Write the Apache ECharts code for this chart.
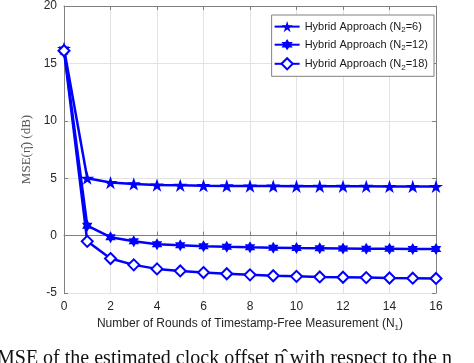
<!DOCTYPE html>
<html><head><meta charset="utf-8">
<script src="https://cdn.jsdelivr.net/npm/echarts@6/dist/echarts.min.js"></script>
<style>html,body{margin:0;padding:0;background:#fff}#c{width:474px;height:363px}</style>
</head><body><div id="c"></div>
<script>
const rounds = [0,1,2,3,4,5,6,7,8,9,10,11,12,13,14,15,16];
const mseN6  = [16.3, 5.0, 4.62, 4.5, 4.4, 4.38, 4.35, 4.33, 4.32, 4.31, 4.3, 4.3, 4.29, 4.29, 4.28, 4.28, 4.28];
const mseN12 = [16.2, 0.86, -0.14, -0.5, -0.75, -0.85, -0.93, -0.98, -1.02, -1.05, -1.08, -1.1, -1.12, -1.14, -1.15, -1.16, -1.17];
const mseN18 = [16.1, -0.5, -2.0, -2.55, -2.9, -3.08, -3.22, -3.32, -3.42, -3.5, -3.55, -3.6, -3.63, -3.66, -3.69, -3.71, -3.73];
const seriesNames = ['N2=6', 'N2=12', 'N2=18'];
const legendSuffix = ['=6)', '=12)', '=18)'];
const xTicks = [0,2,4,6,8,10,12,14,16];
const yTicks = [-5,0,5,10,15,20];

const star5 = 'path://M100,0 L122.45,69.1 L195.1,69.1 L136.3,111.8 L158.8,180.9 L100,138.2 L41.2,180.9 L63.7,111.8 L4.9,69.1 L77.55,69.1 Z';
const star6 = 'path://M100,0 L128.9,50 L186.6,50 L157.7,100 L186.6,150 L128.9,150 L100,200 L71.1,150 L13.4,150 L42.3,100 L13.4,50 L71.1,50 Z';

const blue = '#0000ff';
function mk(name, vals, symbol, size, fill) {
  return {
    name: name, type: 'line',
    data: rounds.map((r, i) => [r, vals[i]]),
    lineStyle: { color: blue, width: 2.5 },
    itemStyle: { color: fill, borderColor: blue, borderWidth: fill === blue ? 0 : 2 },
    symbol: symbol, symbolSize: size, showSymbol: true,
    symbolKeepAspect: true,
    animation: false, z: 3
  };
}

const chart = echarts.init(document.getElementById('c'), null, { renderer: 'canvas' });
const axisCol = '#808080';
const labelCol = '#262626';
chart.setOption({
  animation: false,
  grid: { left: 64, right: 38, top: 5, bottom: 70, show: false },
  xAxis: [{
    type: 'value', min: 0, max: 16, interval: 2,
    name: 'Number of Rounds of Timestamp-Free Measurement (N{s|1})',
    nameLocation: 'middle', nameGap: 22,
    nameTextStyle: { color: labelCol, fontSize: 12, fontFamily: 'Liberation Sans',
      rich: { s: { fontSize: 8, padding: [8,0,0,0], color: labelCol, fontFamily: 'Liberation Sans' } } },
    axisLine: { show: true, lineStyle: { color: axisCol, width: 1 } },
    axisTick: { show: true, inside: true, length: 4, lineStyle: { color: axisCol } },
    axisLabel: { color: labelCol, fontSize: 12, fontFamily: 'Liberation Sans', margin: 8 },
    splitLine: { show: true, lineStyle: { color: '#e3e3e3', width: 1 } }
  }, {
    type: 'value', min: 0, max: 16, interval: 2, position: 'top',
    axisLine: { show: true, onZero: false, lineStyle: { color: axisCol, width: 1 } },
    axisTick: { show: true, inside: true, length: 4, lineStyle: { color: axisCol } },
    axisLabel: { show: false }, splitLine: { show: false }
  }],
  yAxis: [{
    type: 'value', min: -5, max: 20, interval: 5,
    name: 'MSE(η\u0302) (dB)', nameLocation: 'middle', nameGap: 24,
    nameTextStyle: { color: '#555', fontSize: 13, fontFamily: 'Liberation Serif' },
    axisLine: { show: true, onZero: false, lineStyle: { color: axisCol, width: 1 } },
    axisTick: { show: true, inside: true, length: 4, lineStyle: { color: axisCol } },
    axisLabel: { color: labelCol, fontSize: 12, fontFamily: 'Liberation Sans', margin: 7 },
    splitLine: { show: true, lineStyle: { color: '#e3e3e3', width: 1 } }
  }, {
    type: 'value', min: -5, max: 20, interval: 5, position: 'right',
    axisLine: { show: true, onZero: false, lineStyle: { color: axisCol, width: 1 } },
    axisTick: { show: true, inside: true, length: 4, lineStyle: { color: axisCol } },
    axisLabel: { show: false }, splitLine: { show: false }
  }],
  legend: {
    orient: 'vertical', right: 40, top: 15,
    backgroundColor: '#fff', borderColor: '#808080', borderWidth: 1,
    padding: [6, 6, 5, 2], itemGap: 5, itemWidth: 25, itemHeight: 14,
    data: seriesNames,
    formatter: function (name) {
      const i = seriesNames.indexOf(name);
      return '{a|Hybrid Approach (N}{s|2}{a|' + legendSuffix[i] + '}';
    },
    textStyle: {
      color: '#1a1a1a', fontSize: 11, fontFamily: 'Liberation Sans',
      rich: {
        a: { fontSize: 11, color: '#1a1a1a', fontFamily: 'Liberation Sans' },
        s: { fontSize: 8, color: '#1a1a1a', padding: [7, 0, 0, 0], fontFamily: 'Liberation Sans' }
      }
    }
  },
  series: [
    mk(seriesNames[0], mseN6, star5, 14, blue),
    mk(seriesNames[1], mseN12, star6, 12, blue),
    mk(seriesNames[2], mseN18, 'diamond', 11, '#fff')
  ],
  graphic: [{
    type: 'text', left: -3, top: 349,
    style: { text: 'MSE of the estimated clock offset η\u0302 with respect to the n', fill: '#111',
      font: '20px "Liberation Serif"' }
  }]
});
</script></body></html>
